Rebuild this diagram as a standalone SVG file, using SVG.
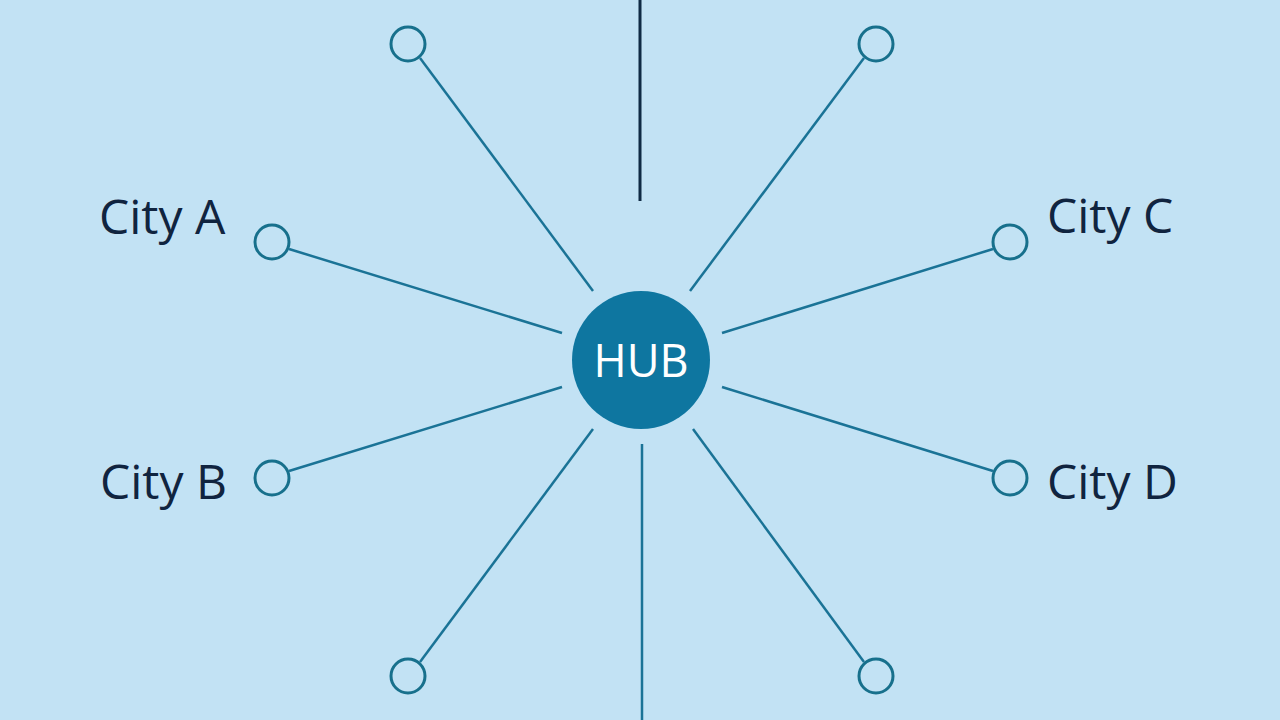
<svg xmlns="http://www.w3.org/2000/svg" width="1280" height="720" viewBox="0 0 1280 720">
<style>
.bg{fill:#c2e2f4}
.spoke{stroke:#1a7396;stroke-width:2.5;fill:none}
.end{fill:#c2e2f4;stroke:#17708c;stroke-width:3}
.label{font-family:"Open Sans","Noto Sans",sans-serif;font-size:48px;fill:#10243f}
.hubtxt{font-family:"Open Sans","Noto Sans",sans-serif;font-size:45px;fill:#ffffff}
</style>
<rect class="bg" x="0" y="0" width="1280" height="720"/>
<g id="connectors">
<line x1="640" y1="0" x2="640" y2="201" stroke="#0f2a44" stroke-width="3"/>
<line class="spoke" x1="642" y1="444" x2="642" y2="720" stroke-width="3"/>
<line class="spoke" x1="420" y1="58" x2="593" y2="291"/>
<line class="spoke" x1="289" y1="249" x2="562" y2="333"/>
<line class="spoke" x1="289" y1="471" x2="562" y2="387"/>
<line class="spoke" x1="420" y1="662" x2="593" y2="429"/>
<line class="spoke" x1="864" y1="58" x2="690" y2="291"/>
<line class="spoke" x1="993" y1="249" x2="722" y2="333"/>
<line class="spoke" x1="993" y1="471" x2="722" y2="387"/>
<line class="spoke" x1="864" y1="662" x2="693" y2="429"/>
</g>
<g id="hub">
<circle cx="641" cy="360" r="69" fill="#0e76a0"/>
<text class="hubtxt" x="641" y="377" text-anchor="middle">HUB</text>
</g>
<g id="node-top-left"><circle class="end" cx="408" cy="44" r="17"/></g>
<g id="node-top-right"><circle class="end" cx="876" cy="44" r="17"/></g>
<g id="node-city-a"><circle class="end" cx="272" cy="242" r="17"/><text class="label" x="99" y="234">City A</text></g>
<g id="node-city-b"><circle class="end" cx="272" cy="478" r="17"/><text class="label" x="100" y="499">City B</text></g>
<g id="node-city-c"><circle class="end" cx="1010" cy="242" r="17"/><text class="label" x="1047" y="233">City C</text></g>
<g id="node-city-d"><circle class="end" cx="1010" cy="478" r="17"/><text class="label" x="1047" y="499">City D</text></g>
<g id="node-bottom-left"><circle class="end" cx="408" cy="676" r="17"/></g>
<g id="node-bottom-right"><circle class="end" cx="876" cy="676" r="17"/></g>
</svg>
